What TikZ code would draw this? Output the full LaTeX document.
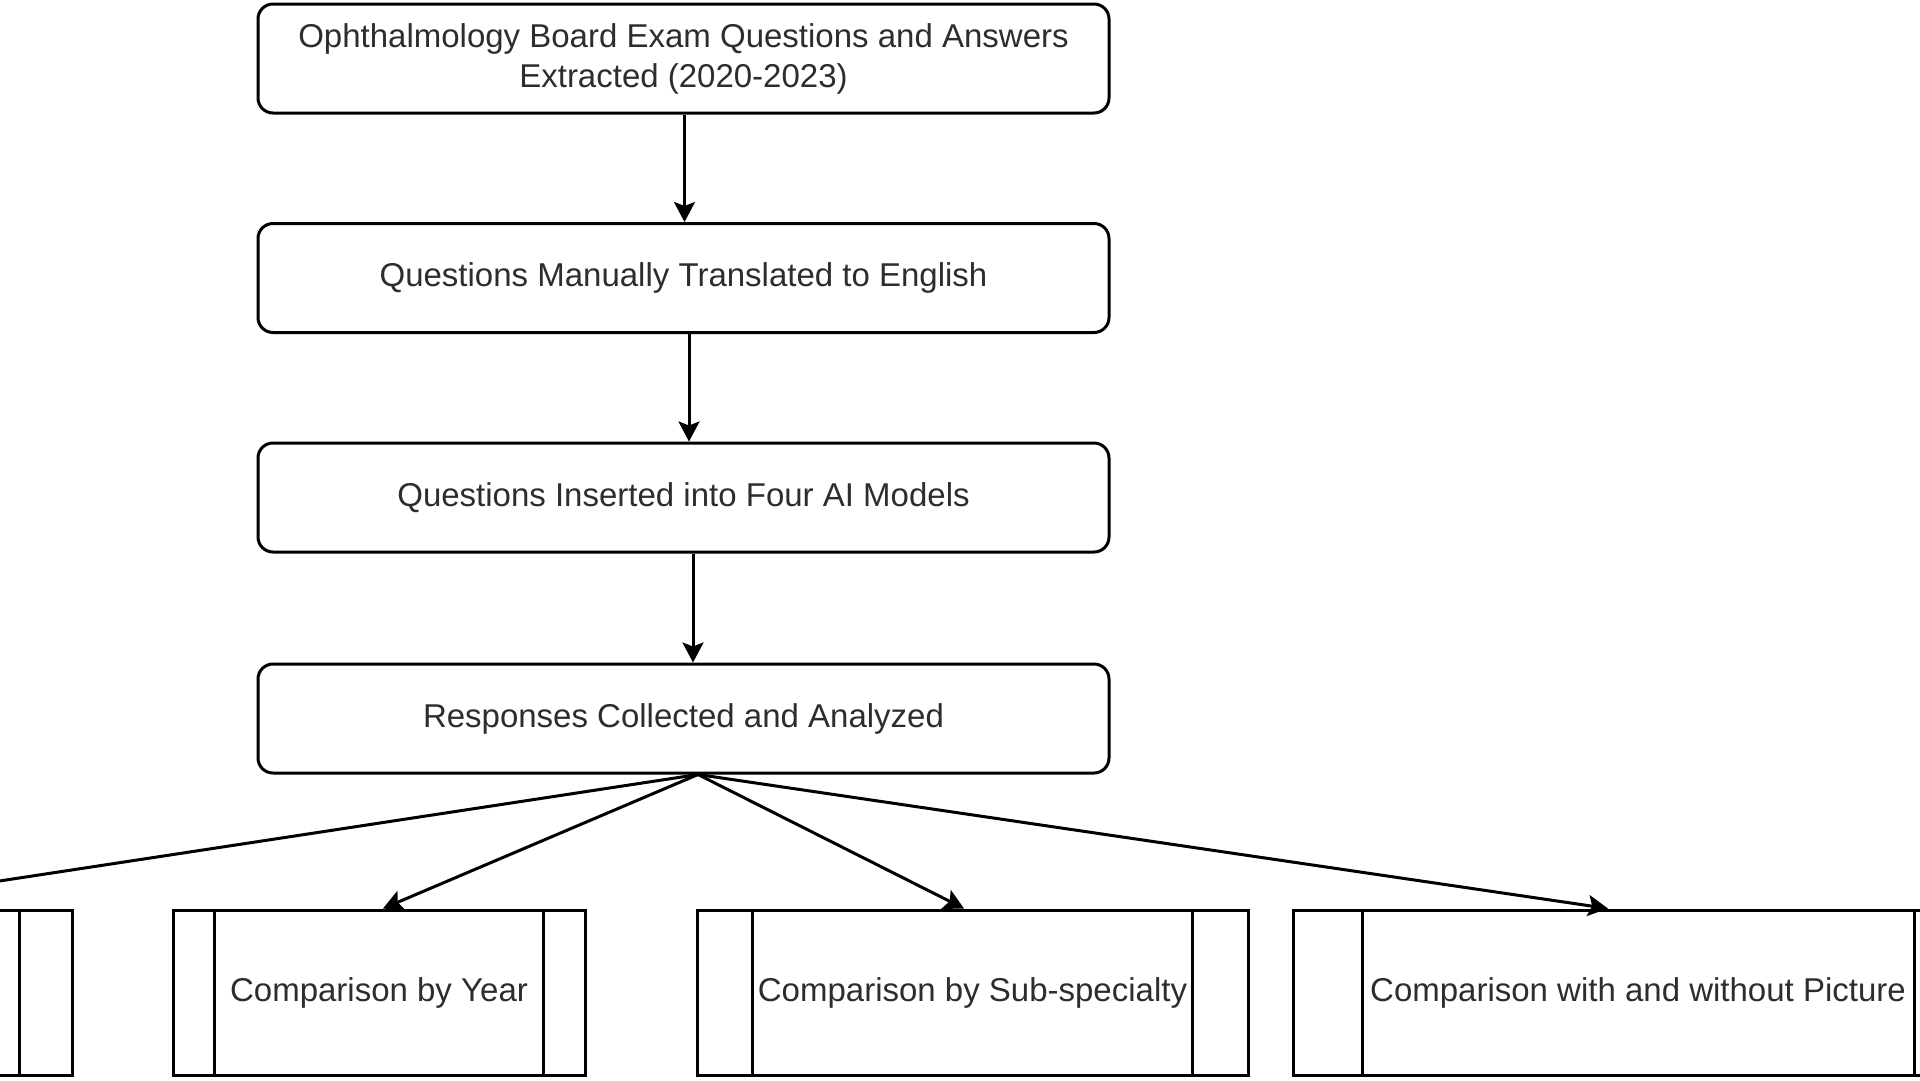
\documentclass[tikz,border=0pt]{standalone}
\usepackage{fontspec}
\setmainfont{Liberation Sans}
\usetikzlibrary{arrows.meta,calc}
\definecolor{txt}{RGB}{45,45,45}
\begin{document}
\begin{tikzpicture}[x=1pt,y=-1pt,
  stepbox/.style={draw, line width=3pt, rounded corners=15pt, minimum width=851pt, minimum height=109pt,
    align=center, text=txt, font=\fontsize{33}{40}\selectfont, inner sep=0pt},
  procbox/.style={draw, line width=3pt, minimum height=165pt, text=txt,
    font=\fontsize{33}{40}\selectfont, inner sep=0pt,
    path picture={\draw[line width=3pt]
      ($(path picture bounding box.north west)!0.1!(path picture bounding box.north east)$) --
      ($(path picture bounding box.south west)!0.1!(path picture bounding box.south east)$)
      ($(path picture bounding box.north west)!0.9!(path picture bounding box.north east)$) --
      ($(path picture bounding box.south west)!0.9!(path picture bounding box.south east)$);}},
  arr/.style={line width=3pt, -{Stealth[length=20pt,width=21pt,inset=4pt]}}]
\useasboundingbox (0,0) rectangle (1920,1080);
\clip (0,0) rectangle (1920,1080);

\node[stepbox] (b1) at (683.5,58.5) {Ophthalmology Board Exam Questions and Answers\\Extracted (2020-2023)};
\node[stepbox] (b2) at (683.5,278) {Questions Manually Translated to English};
\node[stepbox] (b3) at (683.5,497.5) {Questions Inserted into Four AI Models};
\node[stepbox] (b4) at (683.5,718.5) {Responses Collected and Analyzed};

\node[procbox, minimum width=520pt] (pA) at (-188,992.5) {};
\node[procbox, minimum width=412pt] (pB) at (379,992.5) {Comparison by Year};
\node[procbox, minimum width=551pt] (pC) at (972.5,992.5) {Comparison by Sub-specialty};
\node[procbox, minimum width=690pt] (pD) at (1638,992.5) {Comparison with and without Picture};

\draw[arr] ([xshift=1pt]b1.south) -- ([xshift=1pt]b2.north);
\draw[arr] ([xshift=5.5pt]b2.south) -- ([xshift=5.5pt]b3.north);
\draw[arr] ([xshift=9.5pt]b3.south) -- ([xshift=9.5pt]b4.north);

\coordinate (fan) at ([xshift=14.5pt]b4.south);
\draw[arr] (fan) -- ([xshift=7pt]pA.north);
\draw[arr] (fan) -- ([xshift=4pt]pB.north);
\draw[arr] (fan) -- ([xshift=-8.5pt]pC.north);
\draw[arr] (fan) -- ([xshift=-30pt]pD.north);
\end{tikzpicture}
\end{document}
